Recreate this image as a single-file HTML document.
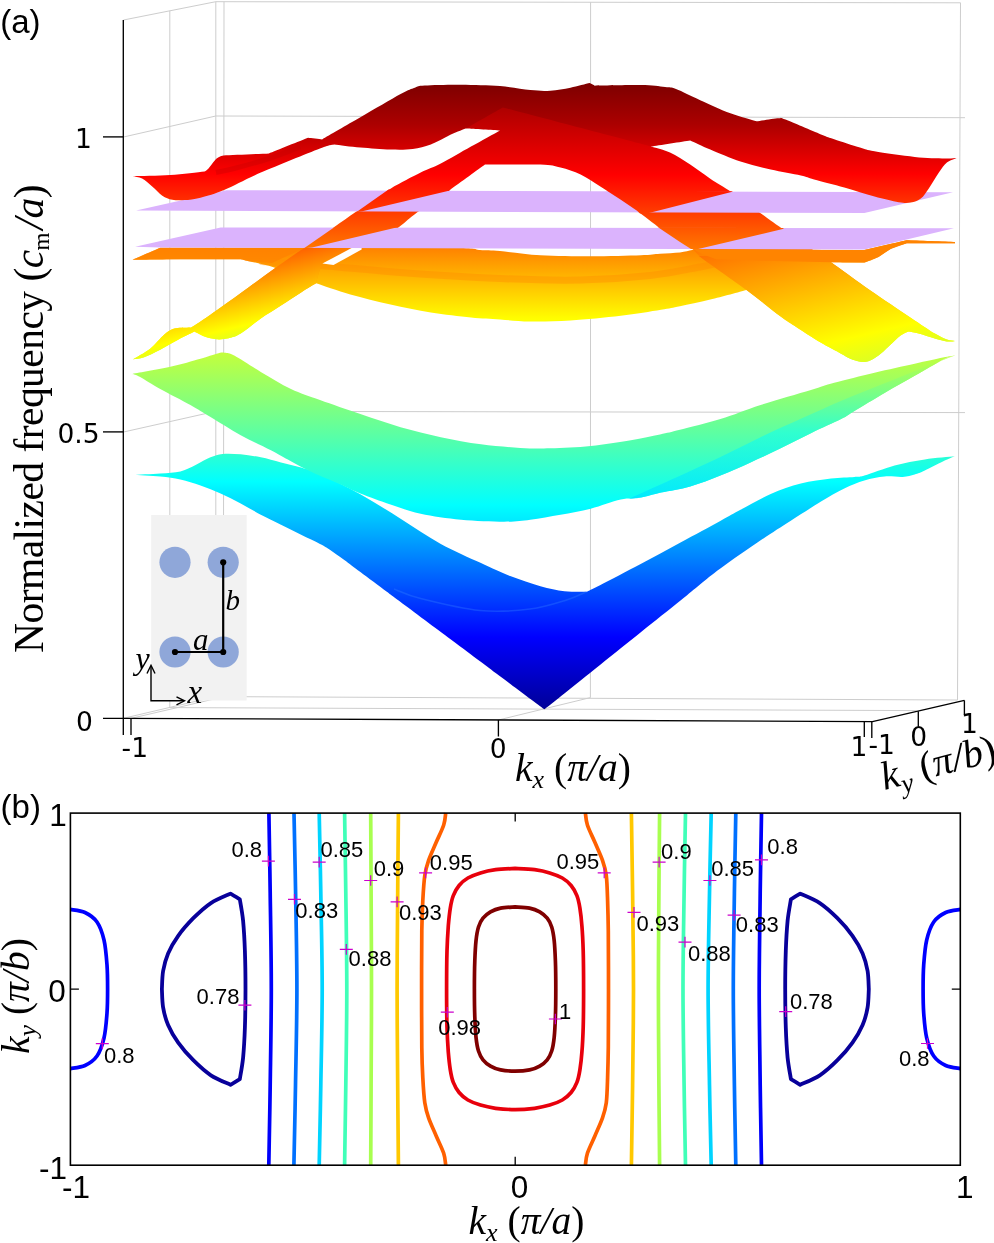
<!DOCTYPE html>
<html><head><meta charset="utf-8"><title>Band structure</title>
<style>
html,body{margin:0;padding:0;background:#fff;}
svg{display:block;}
.sans{font-family:"Liberation Sans",sans-serif;}
.tk{font-family:"DejaVu Sans","Liberation Sans",sans-serif;}
.ser{font-family:"Liberation Serif",serif;}
.it{font-style:italic;}
</style></head><body>
<svg width="994" height="1243" viewBox="0 0 994 1243">
<defs>
<linearGradient id="jet" gradientUnits="userSpaceOnUse" x1="0" y1="708" x2="0" y2="86">
<stop offset="0" stop-color="#00008f"/>
<stop offset="0.125" stop-color="#0000ff"/>
<stop offset="0.375" stop-color="#00ffff"/>
<stop offset="0.625" stop-color="#ffff00"/>
<stop offset="0.8585" stop-color="#ff0000"/>
<stop offset="1" stop-color="#800000"/>
</linearGradient>
<linearGradient id="jet2" gradientUnits="userSpaceOnUse" x1="0" y1="715" x2="0" y2="326">
<stop offset="0" stop-color="#00008f"/>
<stop offset="0.2" stop-color="#0000ff"/>
<stop offset="0.6" stop-color="#00ffff"/>
<stop offset="1" stop-color="#ffff00"/>
</linearGradient>
<linearGradient id="jet3" gradientUnits="userSpaceOnUse" x1="0" y1="703.6" x2="0" y2="306.5">
<stop offset="0" stop-color="#0000ff"/>
<stop offset="0.5" stop-color="#00ffff"/>
<stop offset="1" stop-color="#ffff00"/>
</linearGradient>
<linearGradient id="jet3b" gradientUnits="userSpaceOnUse" x1="0" y1="499" x2="0" y2="356">
<stop offset="0" stop-color="#00e6ff"/>
<stop offset="0.464" stop-color="#28ffd7"/>
<stop offset="1" stop-color="#bdff42"/>
</linearGradient>
<linearGradient id="jet5" gradientUnits="userSpaceOnUse" x1="0" y1="489" x2="0" y2="70">
<stop offset="0" stop-color="#00ffff"/>
<stop offset="0.3723" stop-color="#ffff00"/>
<stop offset="0.7494" stop-color="#ff0000"/>
<stop offset="1" stop-color="#800000"/>
</linearGradient>
<linearGradient id="jet5R" gradientUnits="userSpaceOnUse" x1="800" y1="561.1" x2="673.2" y2="23.8">
<stop offset="0" stop-color="#00ffff"/>
<stop offset="0.3723" stop-color="#ffff00"/>
<stop offset="0.7494" stop-color="#ff0000"/>
<stop offset="1" stop-color="#800000"/>
</linearGradient>
<linearGradient id="jet5L" gradientUnits="userSpaceOnUse" x1="250" y1="425" x2="189.3" y2="167.9">
<stop offset="0" stop-color="#00ffff"/>
<stop offset="0.3723" stop-color="#ffff00"/>
<stop offset="0.7494" stop-color="#ff0000"/>
<stop offset="1" stop-color="#800000"/>
</linearGradient>
<linearGradient id="jet6" gradientUnits="userSpaceOnUse" x1="0" y1="319" x2="0" y2="86">
<stop offset="0" stop-color="#ffff00"/>
<stop offset="0.6223" stop-color="#ff0000"/>
<stop offset="0.8326" stop-color="#ac0000"/>
<stop offset="1" stop-color="#800000"/>
</linearGradient>
</defs>
<rect x="0" y="0" width="994" height="1243" fill="#fff"/>
<g fill="none" stroke="#cdcdcd" stroke-width="1">
<path d="M123.5 20L215.8 1.7L960.5 2.8"/>
<path d="M169.8 10.8L169.8 707"/>
<path d="M215.8 1.7L215.8 696.6"/>
<path d="M224 1.7L223.4 696.6"/>
<path d="M590.6 2.2L590.4 697.6"/>
<path d="M960.5 2.8L957.5 700"/>
<path d="M123.5 137L215.8 116L965 117.7"/>
<path d="M123.5 432L215.8 411.3L965 412.6"/>
<path d="M123.5 718.3L215.8 696.6L957.5 700"/>
<path d="M131 718.4L224 696.7"/>
<path d="M498.3 720L590.4 697.6"/>
<path d="M169.8 707.6L916.5 710.6"/>
</g>
<path d="M132.5 474.8C137.1 474.6 152.2 474.0 160.2 473.4C168.2 472.8 174.3 472.9 180.4 471.4C186.5 469.9 191.5 466.8 196.5 464.4C201.5 462.0 206.2 459.1 210.5 457.3C214.8 455.6 217.6 454.4 222.6 453.9C227.6 453.4 234.3 453.7 240.7 454.3C247.1 454.9 254.1 456.0 260.8 457.3C267.5 458.6 274.3 460.7 281.0 462.4C287.7 464.1 294.6 465.5 301.1 467.4C307.6 469.3 310.1 469.5 320.0 474.0C329.9 478.5 347.0 486.8 360.4 494.2C373.8 501.6 387.2 510.4 400.6 518.7C414.0 527.0 427.4 536.5 440.8 543.9C454.2 551.3 469.4 557.6 481.0 563.0C492.6 568.4 500.3 572.2 510.2 576.1C520.1 580.0 531.4 583.7 540.4 586.2C549.4 588.7 556.8 590.3 564.5 591.2C572.2 592.1 582.9 591.7 586.6 591.8C588.8 590.7 591.1 589.8 600.0 585.2C608.9 580.6 626.8 571.4 640.2 564.3C653.6 557.2 667.1 549.8 680.5 542.5C693.9 535.2 710.7 526.2 720.7 520.7C730.7 515.2 732.2 514.2 740.5 509.8C748.8 505.4 760.7 498.4 770.7 494.0C780.8 489.6 790.8 486.1 800.8 483.5C810.8 480.9 822.1 479.6 831.0 478.5C839.9 477.4 848.8 477.4 854.4 476.9C860.0 476.4 857.7 477.4 864.4 475.5C871.1 473.6 884.5 468.1 894.6 465.4C904.7 462.7 914.7 460.9 924.8 459.4C934.9 457.9 950.0 456.8 955.0 456.3C953.0 457.1 947.9 459.0 942.9 461.4C937.9 463.8 929.5 468.2 924.8 470.4C920.1 472.6 918.4 473.3 914.7 474.4C911.0 475.5 907.7 476.5 902.7 476.9C897.7 477.2 890.9 475.9 884.5 476.5C878.1 477.1 871.1 478.5 864.4 480.5C857.7 482.5 851.5 485.0 844.3 488.5C837.1 492.0 829.9 496.2 821.0 501.6C812.1 507.0 800.8 514.3 790.8 520.7C780.8 527.1 772.7 532.2 761.0 540.1C749.3 548.0 730.9 560.9 720.7 568.3C710.5 575.7 706.7 579.1 700.0 584.5C693.3 589.9 690.5 592.5 680.5 600.5C670.5 608.5 653.6 622.0 640.2 632.7C626.8 643.4 616.0 652.1 600.0 664.9C584.0 677.7 553.7 701.9 544.4 709.3C537.0 703.8 510.7 684.2 500.0 676.2C489.3 668.2 488.2 667.3 480.0 661.2C471.8 655.1 464.1 649.4 450.9 639.5C437.7 629.6 411.3 610.0 400.6 602.0C389.9 594.0 393.2 596.5 386.5 591.5C379.8 586.5 367.4 577.2 360.4 572.0C353.4 566.8 349.3 563.7 344.3 560.0C339.3 556.3 334.2 552.6 330.2 549.9C326.1 547.2 324.9 546.4 320.0 543.9C315.1 541.4 307.6 538.0 301.1 534.8C294.6 531.6 287.7 528.1 281.0 524.7C274.3 521.4 267.5 518.2 260.8 514.7C254.1 511.2 247.4 507.1 240.7 503.6C234.0 500.1 227.3 496.6 220.6 493.6C213.9 490.6 207.2 487.9 200.5 485.5C193.8 483.1 187.1 481.0 180.4 479.5C173.7 478.0 168.2 477.3 160.2 476.5C152.2 475.7 137.1 475.1 132.5 474.8Z" fill="url(#jet2)" />
<path d="M394.0 589.0C398.4 590.6 406.4 594.9 420.7 598.5C435.0 602.1 461.8 608.8 480.0 610.5C498.2 612.2 515.6 610.8 530.0 609.0C544.4 607.2 557.1 602.9 566.5 600.0C575.9 597.1 583.2 593.2 586.6 591.8" fill="none" stroke="#3c8cff" stroke-width="1.6" opacity="0.3"/>
<path d="M132.5 373.9C138.8 372.7 159.0 369.3 170.3 366.8C181.6 364.3 192.8 361.0 200.5 358.8C208.2 356.6 212.6 354.7 216.6 353.7C220.6 352.7 221.6 352.3 224.6 352.7C227.6 353.1 228.7 352.6 234.7 355.8C240.7 359.0 251.4 366.4 260.8 371.9C270.2 377.4 281.1 384.3 291.0 389.0C300.9 393.7 308.4 395.8 320.0 400.0C331.6 404.2 347.0 409.6 360.4 414.1C373.8 418.6 387.2 423.4 400.6 427.2C414.0 431.0 427.4 434.3 440.8 437.2C454.2 440.1 467.8 442.5 481.0 444.3C494.2 446.1 508.6 447.2 520.2 447.9C531.8 448.6 538.6 448.6 550.4 448.3C562.1 448.0 577.3 447.2 590.7 445.9C604.1 444.5 619.4 442.1 630.9 440.2C642.4 438.3 651.8 436.1 660.0 434.4C668.2 432.7 669.9 432.4 680.0 429.8C690.1 427.2 707.0 423.2 720.4 419.1C733.8 415.0 745.5 409.9 760.6 405.0C775.7 400.1 798.6 393.7 810.9 390.0C823.2 386.3 823.6 385.7 834.2 382.8C844.8 379.9 861.1 375.9 874.5 372.7C887.9 369.5 903.3 366.2 914.7 363.7C926.1 361.2 936.2 359.0 942.9 357.6C949.6 356.2 953.0 355.9 955.0 355.6C953.0 356.3 949.6 356.3 942.9 359.7C936.2 363.1 924.4 370.3 914.7 375.8C905.0 381.3 894.5 387.0 884.5 392.9C874.5 398.8 861.6 406.6 854.4 411.0C847.2 415.4 848.4 415.4 841.1 419.1C833.9 422.8 821.0 428.3 810.9 433.2C800.8 438.1 790.8 443.4 780.7 448.3C770.6 453.2 760.5 457.9 750.5 462.4C740.5 466.9 730.4 471.5 720.4 475.5C710.4 479.5 700.1 483.6 690.2 486.5C680.3 489.4 669.2 490.8 661.0 492.6C652.8 494.5 647.7 496.4 641.0 497.6C634.3 498.8 629.2 497.8 620.8 499.6C612.4 501.5 600.8 506.2 590.7 508.7C580.7 511.2 570.6 512.9 560.5 514.7C550.4 516.5 539.7 518.5 530.3 519.7C520.9 520.9 515.6 521.7 504.1 521.7C492.6 521.7 474.9 521.0 461.0 519.7C447.1 518.4 432.4 516.2 420.7 513.7C408.9 511.2 400.6 508.0 390.5 504.6C380.4 501.2 368.8 497.0 360.4 493.6C352.0 490.2 346.7 487.3 340.0 484.3C333.3 481.3 325.8 478.4 320.0 475.8C314.2 473.2 310.0 471.3 305.0 468.8C300.0 466.3 295.7 463.9 290.0 460.8C284.3 457.7 279.1 454.6 270.9 450.3C262.7 446.0 250.8 440.7 240.7 435.2C230.6 429.7 218.9 422.1 210.5 417.1C202.1 412.1 198.8 409.7 190.4 405.0C182.0 400.3 168.6 393.7 160.2 389.0C151.8 384.3 144.7 379.4 140.1 376.9C135.5 374.4 133.8 374.4 132.5 373.9Z" fill="url(#jet3)" />
<path d="M955.0 355.6C953.0 356.3 949.6 356.3 942.9 359.7C936.2 363.1 924.4 370.3 914.7 375.8C905.0 381.3 894.5 387.0 884.5 392.9C874.5 398.8 861.6 406.6 854.4 411.0C847.2 415.4 848.4 415.4 841.1 419.1C833.9 422.8 821.0 428.3 810.9 433.2C800.8 438.1 790.8 443.4 780.7 448.3C770.6 453.2 760.5 457.9 750.5 462.4C740.5 466.9 730.4 471.5 720.4 475.5C710.4 479.5 700.1 483.6 690.2 486.5C680.3 489.4 669.2 490.8 661.0 492.6C652.8 494.5 646.4 496.5 641.0 497.6C635.6 498.7 630.5 498.8 628.4 499.0C636.2 495.5 659.6 485.1 675.0 478.0C690.4 470.9 706.5 463.6 721.0 456.7C735.5 449.8 748.6 442.9 762.0 436.5C775.4 430.1 788.1 424.5 801.4 418.5C814.7 412.5 828.6 406.2 842.0 400.5C855.4 394.8 869.0 389.6 882.0 384.3C895.0 379.1 907.8 373.8 920.0 369.0C932.2 364.2 949.2 357.8 955.0 355.6Z" fill="url(#jet3b)" opacity="0.85"/>
<path d="M132.5 259.8C137.1 257.8 155.6 249.7 160.2 247.7C193.5 247.7 310.0 247.6 360.0 247.7C410.0 247.8 440.0 247.7 460.0 248.1C480.0 248.5 473.3 249.6 480.0 250.1C486.7 250.6 489.9 250.2 500.0 251.1C510.1 251.9 525.3 254.3 540.4 255.2C555.5 256.1 573.9 256.2 590.7 256.2C607.5 256.2 629.5 255.6 641.0 255.2C652.5 254.8 653.5 254.1 660.0 253.7C666.5 253.2 674.6 253.1 680.0 252.5C685.4 251.9 688.9 250.6 692.2 250.1C695.5 249.6 698.7 249.6 700.0 249.5C727.4 249.6 837.0 249.8 864.4 249.9C871.5 248.3 899.7 241.8 906.7 240.2C914.8 240.5 947.0 241.6 955.0 241.9C955.0 242.1 955.0 243.1 955.0 243.3C947.0 243.3 914.8 243.3 906.7 243.3C904.0 244.2 895.3 246.6 890.6 248.9C885.9 251.2 882.9 254.6 878.5 256.9C874.1 259.2 866.8 261.7 864.4 262.6C858.8 262.5 836.6 262.3 831.0 262.2C816.9 266.8 760.6 285.4 746.5 290.0C740.5 291.6 721.4 296.9 710.3 299.6C699.2 302.3 688.2 304.5 680.0 306.2C671.8 307.9 670.9 308.2 661.0 309.8C651.1 311.4 635.9 314.0 620.8 315.8C605.7 317.6 585.6 319.6 570.5 320.5C555.4 321.4 542.0 321.7 530.3 321.5C518.5 321.3 509.9 320.2 500.0 319.5C490.1 318.8 482.5 318.7 471.0 317.5C459.5 316.3 444.2 314.7 430.8 312.5C417.4 310.3 403.9 307.4 390.5 304.4C377.1 301.4 362.7 297.9 350.3 294.4C337.9 290.9 321.7 285.1 316.0 283.3C309.1 280.7 286.1 271.5 274.9 267.8C263.7 264.1 254.5 262.6 248.8 261.2C243.1 259.8 242.0 259.5 240.7 259.2C230.6 259.2 198.4 259.1 180.4 259.2C162.4 259.3 140.5 259.7 132.5 259.8Z" fill="url(#jet)" />
<path d="M132.5 259.8L160.2 247.7L305 247.7L272 263L248.8 261.2L240.7 259.2L180.4 259.2Z" fill="#ff8200" opacity="0.75"/>
<path d="M262.0 261.5C271.7 262.2 297.0 263.7 320.0 265.5C343.0 267.3 370.0 270.3 400.0 272.5C430.0 274.7 470.0 277.2 500.0 278.5C530.0 279.8 555.0 280.5 580.0 280.0C605.0 279.5 630.0 277.7 650.0 275.5C670.0 273.3 687.0 269.4 700.0 267.0C713.0 264.6 723.3 262.0 728.0 261.0" fill="none" stroke="#ff8800" stroke-width="7" opacity="0.38" stroke-linecap="round"/>
<path d="M133.1 359.2C135.9 357.4 145.0 352.8 150.2 348.7C155.4 344.6 160.3 338.0 164.3 334.6C168.3 331.2 170.3 329.8 174.3 328.6C178.3 327.4 185.1 328.1 188.4 327.6C191.8 327.1 189.0 329.0 194.4 325.6C199.8 322.2 211.5 313.9 220.6 307.5C229.7 301.1 239.8 293.9 248.8 287.3C257.9 280.8 266.2 274.4 274.9 268.2C283.6 262.0 293.6 255.3 301.1 250.1C308.6 244.9 310.1 243.9 320.0 237.0C329.9 230.1 348.6 216.9 360.4 208.8C372.1 200.8 380.4 194.7 390.5 188.7C400.6 182.7 412.3 176.8 420.7 172.6C429.1 168.4 432.4 167.9 440.8 163.6C449.2 159.2 461.1 152.0 471.0 146.5C480.9 141.0 495.2 133.1 500.0 130.4C494.4 130.1 472.1 128.7 466.5 128.4C465.8 127.8 462.8 125.2 462.0 124.5C468.8 120.6 496.2 104.9 503.0 101.0C528.5 107.5 630.5 133.5 656.0 140.0C655.2 141.1 651.8 145.4 651.0 146.5C654.2 147.5 663.5 149.5 670.0 152.5C676.5 155.5 683.5 160.2 690.2 164.6C696.9 169.0 703.4 174.1 710.3 178.7C717.2 183.3 723.0 186.3 731.4 192.1C739.8 197.9 752.0 207.2 760.6 213.3C769.2 219.5 771.0 220.8 782.7 229.0C794.4 237.2 815.7 251.5 831.0 262.2C846.3 272.9 860.5 283.6 874.5 293.3C888.5 303.0 904.7 313.7 914.7 320.4C924.8 327.1 929.4 330.3 934.8 333.5C940.2 336.7 943.5 338.3 946.9 339.5C950.3 340.7 953.6 340.7 955.0 340.9C953.6 341.0 950.3 341.9 946.9 341.5C943.5 341.1 939.5 339.8 934.8 338.5C930.1 337.2 923.1 334.7 918.7 333.5C914.4 332.3 910.4 331.8 908.7 331.5C907.4 332.2 904.0 333.0 900.6 335.5C897.2 338.0 892.3 343.2 888.6 346.6C884.9 350.0 881.9 353.2 878.5 355.6C875.1 358.1 871.4 360.3 868.4 361.3C865.4 362.3 863.4 362.1 860.4 361.7C857.4 361.3 853.5 360.0 850.3 358.7C847.1 357.4 845.5 356.0 841.1 353.7C836.8 351.4 829.2 347.5 824.2 344.6C819.2 341.8 815.9 339.8 810.9 336.6C805.9 333.4 799.0 328.9 794.0 325.5C789.0 322.1 788.6 322.4 780.7 316.5C772.8 310.6 759.2 299.4 746.5 290.0C733.8 280.6 713.3 266.8 704.3 260.0C695.2 253.2 696.2 252.0 692.2 249.0C688.2 246.0 685.2 245.3 680.0 242.0C674.8 238.7 668.2 234.2 661.0 229.0C653.8 223.8 643.7 215.7 637.0 210.8C630.3 205.9 626.8 203.8 620.8 199.8C614.8 195.8 607.4 190.9 600.7 186.7C594.0 182.5 587.3 177.8 580.6 174.6C573.9 171.4 567.2 169.3 560.5 167.6C553.8 165.9 553.0 165.1 540.4 164.6C527.8 164.1 494.2 164.6 485.0 164.6C479.0 168.9 460.3 182.7 449.0 190.7C437.7 198.7 425.3 206.4 417.0 212.5C408.7 218.6 406.8 221.2 399.0 227.0C391.2 232.8 374.8 244.2 370.0 247.6C367.1 247.6 355.4 247.6 352.5 247.6C347.5 250.2 327.4 260.9 322.4 263.5C321.8 265.2 319.1 272.2 318.5 274.0C318.1 275.6 316.4 281.8 316.0 283.3C313.5 284.8 306.9 288.7 301.1 292.4C295.3 296.1 287.7 301.1 281.0 305.5C274.3 309.9 267.5 313.8 260.8 318.5C254.1 323.2 246.0 330.3 240.7 333.6C235.3 336.9 232.7 337.2 228.7 338.2C224.7 339.1 220.6 339.6 216.6 339.3C212.6 339.0 208.2 337.9 204.5 336.6C200.8 335.3 196.1 332.4 194.4 331.6C191.4 333.1 182.0 337.7 176.3 340.7C170.6 343.7 165.6 346.9 160.2 349.7C154.8 352.4 148.6 355.6 144.1 357.2C139.6 358.8 134.9 358.9 133.1 359.2Z" fill="url(#jet5)" />
<path d="M822.0 256.0C823.5 257.0 822.2 256.0 831.0 262.2C839.8 268.4 860.5 283.6 874.5 293.3C888.5 303.0 904.7 313.7 914.7 320.4C924.8 327.1 929.4 330.3 934.8 333.5C940.2 336.7 943.5 338.3 946.9 339.5C950.3 340.7 953.6 340.7 955.0 340.9C953.6 341.0 950.3 341.9 946.9 341.5C943.5 341.1 939.5 339.8 934.8 338.5C930.1 337.2 923.1 334.7 918.7 333.5C914.4 332.3 910.4 331.8 908.7 331.5C907.4 332.2 904.0 333.0 900.6 335.5C897.2 338.0 892.3 343.2 888.6 346.6C884.9 350.0 881.9 353.2 878.5 355.6C875.1 358.1 871.4 360.3 868.4 361.3C865.4 362.3 863.4 362.1 860.4 361.7C857.4 361.3 853.5 360.0 850.3 358.7C847.1 357.4 845.5 356.0 841.1 353.7C836.8 351.4 829.2 347.5 824.2 344.6C819.2 341.8 815.9 339.8 810.9 336.6C805.9 333.4 799.0 328.9 794.0 325.5C789.0 322.1 788.6 322.4 780.7 316.5C772.8 310.6 759.2 299.4 746.5 290.0C733.8 280.6 712.2 265.7 704.3 260.0C696.4 254.3 699.9 256.7 699.0 256.0C719.5 256.0 801.5 256.0 822.0 256.0Z" fill="url(#jet5R)" />
<path d="M305.0 247.6C304.4 248.0 306.1 246.7 301.1 250.1C296.1 253.5 283.6 262.0 274.9 268.2C266.2 274.4 257.9 280.8 248.8 287.3C239.8 293.9 229.7 301.1 220.6 307.5C211.5 313.9 199.8 322.2 194.4 325.6C189.0 329.0 191.8 327.1 188.4 327.6C185.1 328.1 178.3 327.4 174.3 328.6C170.3 329.8 168.3 331.2 164.3 334.6C160.3 338.0 155.4 344.6 150.2 348.7C145.0 352.8 135.9 357.4 133.1 359.2C134.9 358.9 139.6 358.8 144.1 357.2C148.6 355.6 154.8 352.4 160.2 349.7C165.6 346.9 170.6 343.7 176.3 340.7C182.0 337.7 191.4 333.1 194.4 331.6C196.1 332.4 200.8 335.3 204.5 336.6C208.2 337.9 212.6 339.0 216.6 339.3C220.6 339.6 224.7 339.1 228.7 338.2C232.7 337.2 235.3 336.9 240.7 333.6C246.0 330.3 254.1 323.2 260.8 318.5C267.5 313.8 274.3 309.9 281.0 305.5C287.7 301.1 295.3 296.1 301.1 292.4C306.9 288.7 313.5 284.8 316.0 283.3C316.4 281.8 318.1 275.6 318.5 274.0C319.1 272.2 321.8 265.2 322.4 263.5C327.4 260.9 347.5 250.2 352.5 247.6C344.6 247.6 312.9 247.6 305.0 247.6Z" fill="url(#jet5L)" />
<path d="M322.4 263.6L352.5 247.6L361.6 247.6L361.6 249.6L333.5 264.9Z" fill="#fff"/>
<path d="M136.1 210.6L226.6 190.2L953 192.3L864.4 213.1Z" fill="#dbb3fd"/>
<path d="M135.1 246.8L220.6 227.4L954 228.2L864.4 249.6L160 247.6Z" fill="#dbb3fd"/>
<path d="M356.5 212L388.5 189.5L450.5 189.5L448.9 190.7L362.4 211.2Z" fill="url(#jet5)"/>
<path d="M304 248.3L335 226.8L399.5 226.5L398.6 227L312 247.6Z" fill="url(#jet5)"/>
<path d="M606.5 190.5L733 191.2L731.4 192.1L647 213.6L640 213.6L637 210.8L620.8 199.8Z" fill="url(#jet5)"/>
<path d="M658 227.3L784 228L782.7 229L698.2 249L691 249L680 242Z" fill="url(#jet5)"/>
<path d="M694 249.6L864.4 249.9L906.7 240.2L955 241.9L955 243.3L906.7 243.3L890.6 248.9L878.5 256.9L864.4 262.6L831 262.2L760 260.8L716 259.2L702 254Z" fill="#ff8400"/>
<path d="M133.1 176.2C139.3 176.0 158.4 175.8 170.3 175.0C182.2 174.2 198.8 172.1 204.5 171.5C205.2 171.0 206.5 170.7 208.5 168.5C210.5 166.3 214.1 160.7 216.6 158.5C219.1 156.3 222.4 156.0 223.6 155.5C231.1 155.2 261.3 153.8 268.9 153.4C275.4 150.8 301.6 140.3 308.1 137.7C310.4 138.0 319.8 139.1 322.1 139.4C328.5 135.7 347.3 124.8 360.4 117.3C373.5 109.8 391.6 99.0 400.6 94.1C409.7 89.2 410.7 89.1 414.7 87.7C418.7 86.3 417.0 86.0 424.7 85.5C432.4 85.0 448.4 84.6 461.0 84.7C473.6 84.8 488.4 85.2 500.0 86.1C511.6 87.0 521.9 89.3 530.3 90.1C538.7 90.9 543.7 91.1 550.4 90.7C557.1 90.3 564.0 89.0 570.5 87.7C577.0 86.4 586.5 83.9 589.7 83.1C590.5 83.5 593.9 85.3 594.7 85.7C602.4 85.6 629.3 84.9 641.0 85.1C652.7 85.3 659.3 86.4 665.1 87.1C670.9 87.8 670.1 86.9 676.0 89.1C681.9 91.3 691.1 96.2 700.2 100.2C709.3 104.2 721.0 109.8 730.4 113.3C739.8 116.8 752.2 120.0 756.6 121.3C760.3 120.8 774.0 118.6 778.7 118.3C783.4 118.0 777.7 116.6 784.7 119.3C791.8 122.0 812.8 131.1 821.0 134.4C829.2 137.7 827.7 137.0 834.2 139.2C840.7 141.4 853.3 145.5 860.0 147.5C866.7 149.5 865.4 149.7 874.5 151.3C883.6 152.9 903.0 155.7 914.7 156.9C926.4 158.1 937.9 158.2 944.9 158.4C951.9 158.6 954.6 158.0 956.6 157.9C955.0 158.7 949.9 160.0 946.9 162.4C943.9 164.8 941.9 168.1 938.9 172.4C935.9 176.8 931.8 184.1 928.8 188.5C925.8 192.9 923.8 196.2 920.8 198.6C917.8 200.9 914.4 202.0 910.7 202.6C907.0 203.2 904.6 203.2 898.6 202.2C892.6 201.2 883.5 199.0 874.5 196.6C865.5 194.2 854.4 190.3 844.3 187.5C834.2 184.7 821.4 181.5 814.1 179.5C806.9 177.5 808.0 177.2 800.8 175.6C793.6 173.9 780.8 171.9 770.7 169.6C760.7 167.2 750.6 164.8 740.5 161.5C730.4 158.2 718.7 153.0 710.3 149.5C701.9 146.0 693.6 141.9 690.2 140.4C683.7 141.4 657.5 145.5 651.0 146.5C626.3 140.0 527.5 114.0 502.8 107.5C496.8 110.9 473.0 124.5 467.0 127.9C464.3 129.0 456.9 131.7 450.9 134.4C444.9 137.2 437.2 142.0 430.8 144.4C424.4 146.8 419.4 148.1 412.7 148.9C406.0 149.8 399.2 149.7 390.5 149.5C381.8 149.3 369.8 148.3 360.4 147.5C351.0 146.7 338.6 144.9 334.2 144.4C331.8 145.1 332.2 143.7 320.0 148.4C307.8 153.1 276.7 165.7 260.8 172.6C244.9 179.5 234.7 185.5 224.6 189.7C214.5 193.9 207.2 196.0 200.5 197.7C193.8 199.4 189.1 199.8 184.4 200.1C179.7 200.4 176.0 200.4 172.3 199.7C168.6 199.0 165.7 197.9 162.3 195.7C159.0 193.5 155.6 189.4 152.2 186.6C148.8 183.8 145.3 180.3 142.1 178.6C138.9 176.9 134.6 176.6 133.1 176.2Z" fill="url(#jet6)" />
<path d="M216.0 172.5C219.3 171.8 227.2 170.3 236.0 168.0C244.8 165.7 258.3 162.0 269.0 158.5C279.7 155.0 294.8 148.9 300.0 147.0" fill="none" stroke="#c00000" stroke-width="5" opacity="0.32" stroke-linecap="butt"/>
<rect x="151.2" y="515" width="95.5" height="185.5" fill="#f2f2f2"/>
<circle cx="175" cy="562.3" r="15.6" fill="#8fa7d9"/>
<circle cx="223.2" cy="562.3" r="15.6" fill="#8fa7d9"/>
<circle cx="175" cy="652" r="15.6" fill="#8fa7d9"/>
<circle cx="223.2" cy="652" r="15.6" fill="#8fa7d9"/>
<path d="M223.2 562.3L223.2 652L175 652" fill="none" stroke="#000" stroke-width="2.2"/>
<circle cx="223.2" cy="562.3" r="3.1" fill="#000"/>
<circle cx="223.2" cy="652" r="3.1" fill="#000"/>
<circle cx="175" cy="652" r="3.1" fill="#000"/>
<text class="ser it" x="225.5" y="610.2" font-size="29">b</text>
<text class="ser it" x="193" y="649.6" font-size="31">a</text>
<path d="M151 666L151 700.8L183.5 700.8" fill="none" stroke="#000" stroke-width="1.4"/>
<path d="M147 673.5L151 665.3L155 673.5" fill="none" stroke="#000" stroke-width="1.4"/>
<path d="M176.5 696.8L184.5 700.8L176.5 704.8" fill="none" stroke="#000" stroke-width="1.4"/>
<text class="ser it" x="135.5" y="669" font-size="32">y</text>
<text class="ser it" x="187.5" y="702.5" font-size="33">x</text>
<g fill="none" stroke="#000" stroke-width="1.35">
<path d="M123.3 20L123.3 735"/>
<path d="M103 136.9L123.3 136.9"/>
<path d="M103 431.9L123.3 431.9"/>
<path d="M103 718.3L123.3 718.3L872.5 721.6L964.4 700.4"/>
<path d="M131 718.4L131 735"/>
<path d="M498.4 720L498.4 736.5"/>
<path d="M864.3 721.6L864.3 737"/>
<path d="M871.8 721.6L871.8 738"/>
<path d="M918.3 711.2L918.3 726.5"/>
<path d="M964.4 700.4L964.4 715"/>
</g>
<g class="tk" font-size="26.5" fill="#000">
<text x="75" y="147.5">1</text>
<text x="57.4" y="443">0.5</text>
<text x="75.9" y="731">0</text>
<text x="121.6" y="756.8">-1</text>
<text x="489.8" y="758.4">0</text>
<text x="850.5" y="756.3">1</text>
<text x="868.5" y="754.3">-1</text>
<text x="910.3" y="746">0</text>
<text x="961.1" y="732.9">1</text>
</g>
<text class="sans" x="0.2" y="32.8" font-size="33">(a)</text>
<text class="ser it" x="515" y="781.3" font-size="39.5">k<tspan font-size="26" dy="7">x</tspan><tspan dy="-7"> </tspan><tspan font-style="normal">(</tspan>π/a<tspan font-style="normal">)</tspan></text>
<text class="ser it" transform="translate(884.5,790) rotate(-14.6)" font-size="40">k<tspan font-size="27" dy="8">y</tspan><tspan dy="-8"> </tspan><tspan font-style="normal">(</tspan>π/b<tspan font-style="normal">)</tspan></text>
<text class="ser" transform="translate(43.4,653) rotate(-90)" font-size="41.5" textLength="468.5" lengthAdjust="spacing">Normalized frequency (<tspan class="it">c</tspan><tspan font-size="23" dy="6">m</tspan><tspan class="it" dy="-6" dx="3.5">/a</tspan>)</text>
<text class="sans" x="0.6" y="818" font-size="33">(b)</text>
<path d="M70.4 909.4C72.8 909.9 80.6 910.4 85.0 912.5C89.4 914.6 93.8 917.4 97.0 922.0C100.2 926.6 102.3 932.8 104.0 940.0C105.7 947.2 106.4 956.8 107.0 965.0C107.6 973.2 107.6 981.0 107.6 989.0C107.6 997.0 107.6 1004.8 107.0 1013.0C106.4 1021.2 105.7 1030.8 104.0 1038.0C102.3 1045.2 100.2 1051.4 97.0 1056.0C93.8 1060.6 89.4 1063.4 85.0 1065.5C80.6 1067.6 72.8 1068.1 70.4 1068.6" fill="none" stroke="#0000ff" stroke-width="3.7" stroke-linejoin="round"/>
<path d="M960.3 909.4C957.9 909.9 950.1 910.4 945.7 912.5C941.3 914.6 936.9 917.4 933.7 922.0C930.5 926.6 928.4 932.8 926.7 940.0C925.0 947.2 924.3 956.8 923.7 965.0C923.1 973.2 923.1 981.0 923.1 989.0C923.1 997.0 923.1 1004.8 923.7 1013.0C924.3 1021.2 925.0 1030.8 926.7 1038.0C928.4 1045.2 930.5 1051.4 933.7 1056.0C936.9 1060.6 941.3 1063.4 945.7 1065.5C950.1 1067.6 957.9 1068.1 960.3 1068.6" fill="none" stroke="#0000ff" stroke-width="3.7" stroke-linejoin="round"/>
<path d="M161.9 989.0C162.1 986.0 162.1 976.9 163.1 971.0C164.1 965.1 165.6 959.3 168.1 953.4C170.6 947.5 174.0 941.7 178.2 935.8C182.4 929.9 187.9 923.7 193.3 918.2C198.8 912.8 204.7 907.2 210.9 903.1C217.1 899.0 227.2 895.2 230.5 893.6C232.1 894.5 238.2 898.3 239.8 899.3C240.4 902.9 242.2 912.1 243.1 920.7C243.9 929.3 244.5 939.5 244.9 950.9C245.3 962.3 245.5 976.2 245.5 989.0C245.5 1001.8 245.3 1016.0 244.9 1027.5C244.5 1039.0 243.9 1049.1 243.1 1057.7C242.2 1066.3 240.4 1075.5 239.8 1079.1C238.2 1080.1 232.1 1083.9 230.5 1084.8C227.2 1083.2 217.1 1079.4 210.9 1075.3C204.7 1071.2 198.8 1065.7 193.3 1060.2C187.9 1054.8 182.4 1048.5 178.2 1042.6C174.0 1036.7 170.6 1030.9 168.1 1025.0C165.6 1019.1 164.1 1013.3 163.1 1007.4C162.1 1001.5 162.1 992.4 161.9 989.4Z" fill="none" stroke="#08009a" stroke-width="3.8" stroke-linejoin="round"/>
<path d="M868.8 989.0C868.6 986.0 868.6 976.9 867.6 971.0C866.6 965.1 865.1 959.3 862.6 953.4C860.1 947.5 856.7 941.7 852.5 935.8C848.3 929.9 842.9 923.7 837.4 918.2C832.0 912.8 826.0 907.2 819.8 903.1C813.6 899.0 803.5 895.2 800.2 893.6C798.7 894.5 792.5 898.3 790.9 899.3C790.4 902.9 788.5 912.1 787.6 920.7C786.8 929.3 786.2 939.5 785.8 950.9C785.4 962.3 785.2 976.2 785.2 989.0C785.2 1001.8 785.4 1016.0 785.8 1027.5C786.2 1039.0 786.8 1049.1 787.6 1057.7C788.5 1066.3 790.4 1075.5 790.9 1079.1C792.5 1080.1 798.7 1083.9 800.2 1084.8C803.5 1083.2 813.6 1079.4 819.8 1075.3C826.0 1071.2 832.0 1065.7 837.4 1060.2C842.9 1054.8 848.3 1048.5 852.5 1042.6C856.7 1036.7 860.1 1030.9 862.6 1025.0C865.1 1019.1 866.6 1013.3 867.6 1007.4C868.6 1001.5 868.6 992.4 868.8 989.4Z" fill="none" stroke="#08009a" stroke-width="3.8" stroke-linejoin="round"/>
<path d="M268.9 813.1C269.1 826.4 269.8 863.8 270.2 893.1C270.6 922.4 271.3 957.0 271.3 989.0C271.3 1021.0 270.6 1055.8 270.2 1085.2C269.8 1114.6 269.0 1151.9 268.8 1165.2" fill="none" stroke="#0000fa" stroke-width="3.7" stroke-linejoin="round"/>
<path d="M294.0 813.1C294.3 826.4 295.1 863.8 295.6 893.1C296.1 922.4 296.9 957.0 296.9 989.0C296.9 1021.0 296.0 1055.8 295.5 1085.2C295.0 1114.6 294.2 1151.9 293.9 1165.2" fill="none" stroke="#0070ff" stroke-width="3.7" stroke-linejoin="round"/>
<path d="M319.2 813.1C319.5 826.4 320.3 863.8 320.8 893.1C321.3 922.4 322.2 957.0 322.2 989.0C322.2 1021.0 321.3 1055.8 320.8 1085.2C320.3 1114.6 319.5 1151.9 319.2 1165.2" fill="none" stroke="#00d4ff" stroke-width="3.7" stroke-linejoin="round"/>
<path d="M344.6 813.1C344.8 826.4 345.4 863.8 345.8 893.1C346.2 922.4 346.8 957.0 346.8 989.0C346.8 1021.0 346.2 1055.8 345.8 1085.2C345.4 1114.6 344.8 1151.9 344.6 1165.2" fill="none" stroke="#40ffb8" stroke-width="3.7" stroke-linejoin="round"/>
<path d="M370.7 813.1C370.8 826.4 371.0 863.8 371.1 893.1C371.3 922.4 371.5 957.0 371.5 989.0C371.5 1021.0 371.3 1055.8 371.1 1085.2C371.0 1114.6 370.8 1151.9 370.7 1165.2" fill="none" stroke="#a8ff50" stroke-width="3.7" stroke-linejoin="round"/>
<path d="M398.4 813.1C398.3 826.4 397.9 863.8 397.7 893.1C397.5 922.4 397.1 957.0 397.1 989.0C397.1 1021.0 397.5 1055.8 397.7 1085.2C397.9 1114.6 398.3 1151.9 398.4 1165.2" fill="none" stroke="#ffc800" stroke-width="3.7" stroke-linejoin="round"/>
<path d="M631.4 813.1C631.6 826.4 632.2 863.8 632.6 893.1C632.9 922.4 633.5 957.0 633.5 989.0C633.5 1021.0 632.9 1055.8 632.6 1085.2C632.2 1114.6 631.6 1151.9 631.4 1165.2" fill="none" stroke="#ffc800" stroke-width="3.7" stroke-linejoin="round"/>
<path d="M659.6 813.1C659.5 826.4 659.1 863.8 658.9 893.1C658.7 922.4 658.4 957.0 658.4 989.0C658.4 1021.0 658.7 1055.8 658.9 1085.2C659.1 1114.6 659.5 1151.9 659.6 1165.2" fill="none" stroke="#a8ff50" stroke-width="3.7" stroke-linejoin="round"/>
<path d="M685.5 813.1C685.3 826.4 684.5 863.8 684.1 893.1C683.7 922.4 683.0 957.0 683.0 989.0C683.0 1021.0 683.7 1055.8 684.1 1085.2C684.5 1114.6 685.3 1151.9 685.5 1165.2" fill="none" stroke="#40ffb8" stroke-width="3.7" stroke-linejoin="round"/>
<path d="M711.2 813.1C710.9 826.4 710.0 863.8 709.5 893.1C709.0 922.4 708.1 957.0 708.1 989.0C708.1 1021.0 709.0 1055.8 709.5 1085.2C710.0 1114.6 710.9 1151.9 711.2 1165.2" fill="none" stroke="#00d4ff" stroke-width="3.7" stroke-linejoin="round"/>
<path d="M735.8 813.1C735.6 826.4 734.8 863.8 734.4 893.1C734.0 922.4 733.3 957.0 733.3 989.0C733.3 1021.0 734.0 1055.8 734.4 1085.2C734.8 1114.6 735.6 1151.9 735.8 1165.2" fill="none" stroke="#0070ff" stroke-width="3.7" stroke-linejoin="round"/>
<path d="M761.5 813.1C761.3 826.4 760.6 863.8 760.2 893.1C759.9 922.4 759.2 957.0 759.2 989.0C759.2 1021.0 759.9 1055.8 760.2 1085.2C760.6 1114.6 761.3 1151.9 761.5 1165.2" fill="none" stroke="#0000fa" stroke-width="3.7" stroke-linejoin="round"/>
<path d="M445.7 813.1C445.4 815.1 445.3 820.0 443.7 825.0C442.1 830.0 438.5 836.9 436.0 842.8C433.5 848.7 430.5 854.9 428.6 860.4C426.7 865.9 425.8 868.8 424.8 875.5C423.8 882.2 423.3 891.4 422.8 900.6C422.3 909.8 422.0 916.1 421.8 930.8C421.6 945.5 421.6 969.5 421.6 989.0C421.6 1008.5 421.6 1032.7 421.8 1047.5C422.0 1062.3 422.3 1068.5 422.8 1077.7C423.3 1086.9 423.8 1096.1 424.8 1102.8C425.8 1109.5 426.7 1112.5 428.6 1117.9C430.5 1123.4 433.5 1129.6 436.0 1135.5C438.5 1141.4 442.1 1148.3 443.7 1153.3C445.3 1158.2 445.4 1163.2 445.7 1165.2" fill="none" stroke="#ff6000" stroke-width="3.7" stroke-linejoin="round"/>
<path d="M585.4 813.1C585.7 815.1 585.8 820.0 587.4 825.0C589.0 830.0 592.6 836.9 595.1 842.8C597.6 848.7 600.6 854.9 602.5 860.4C604.4 865.9 605.4 868.8 606.3 875.5C607.1 882.2 607.3 891.4 607.6 900.6C607.9 909.8 608.1 916.1 608.3 930.8C608.4 945.5 608.5 969.5 608.5 989.0C608.5 1008.5 608.4 1032.7 608.3 1047.5C608.1 1062.3 607.9 1068.5 607.6 1077.7C607.3 1086.9 607.1 1096.1 606.3 1102.8C605.4 1109.5 604.4 1112.5 602.5 1117.9C600.6 1123.4 597.6 1129.6 595.1 1135.5C592.6 1141.4 589.0 1148.3 587.4 1153.3C585.8 1158.2 585.7 1163.2 585.4 1165.2" fill="none" stroke="#ff6000" stroke-width="3.7" stroke-linejoin="round"/>
<path d="M515.1 868.4C511.9 868.6 501.4 869.0 495.6 869.7C489.8 870.5 485.1 871.5 480.5 872.9C475.9 874.3 471.5 875.9 467.9 878.0C464.3 880.1 461.5 882.6 459.1 885.5C456.7 888.4 454.8 891.8 453.3 895.6C451.8 899.4 451.1 903.1 450.3 908.1C449.5 913.1 448.9 918.7 448.3 925.8C447.8 932.9 447.3 940.4 447.0 950.9C446.7 961.4 446.6 976.3 446.6 989.0C446.6 1001.7 446.7 1016.6 447.0 1027.1C447.3 1037.6 447.8 1045.1 448.3 1052.2C448.9 1059.3 449.5 1064.9 450.3 1069.9C451.1 1074.9 451.8 1078.6 453.3 1082.4C454.8 1086.2 456.7 1089.6 459.1 1092.5C461.5 1095.4 464.3 1097.9 467.9 1100.0C471.5 1102.1 475.9 1103.7 480.5 1105.1C485.1 1106.5 489.8 1107.5 495.6 1108.3C501.4 1109.0 508.6 1109.6 515.1 1109.6C521.6 1109.6 528.8 1109.0 534.6 1108.3C540.4 1107.5 545.1 1106.5 549.7 1105.1C554.3 1103.7 558.7 1102.1 562.3 1100.0C565.9 1097.9 568.7 1095.4 571.1 1092.5C573.5 1089.6 575.4 1086.2 576.9 1082.4C578.4 1078.6 579.1 1074.9 579.9 1069.9C580.7 1064.9 581.4 1059.3 581.9 1052.2C582.5 1045.1 582.9 1037.6 583.2 1027.1C583.5 1016.6 583.6 1001.7 583.6 989.0C583.6 976.3 583.5 961.4 583.2 950.9C582.9 940.4 582.5 932.9 581.9 925.8C581.4 918.7 580.7 913.1 579.9 908.1C579.1 903.1 578.4 899.4 576.9 895.6C575.4 891.8 573.5 888.4 571.1 885.5C568.7 882.6 565.9 880.1 562.3 878.0C558.7 875.9 554.3 874.3 549.7 872.9C545.1 871.5 540.4 870.5 534.6 869.7C528.8 869.0 518.4 868.6 515.1 868.4Z" fill="none" stroke="#e8000c" stroke-width="3.7" stroke-linejoin="round"/>
<path d="M515.1 906.9C512.7 907.1 504.7 907.3 500.6 908.1C496.5 908.9 493.4 910.2 490.5 911.9C487.6 913.6 485.0 915.7 483.0 918.2C481.0 920.7 479.7 923.2 478.5 927.0C477.3 930.8 476.6 935.1 476.0 940.8C475.4 946.5 475.1 953.0 474.8 961.0C474.5 969.0 474.4 979.7 474.4 989.0C474.4 998.3 474.5 1009.0 474.8 1017.0C475.1 1025.0 475.4 1031.5 476.0 1037.2C476.6 1042.9 477.3 1047.2 478.5 1051.0C479.7 1054.8 481.0 1057.3 483.0 1059.8C485.0 1062.3 487.6 1064.4 490.5 1066.1C493.4 1067.8 496.5 1069.1 500.6 1069.9C504.7 1070.7 510.3 1071.1 515.1 1071.1C519.9 1071.1 525.5 1070.7 529.6 1069.9C533.7 1069.1 536.8 1067.8 539.7 1066.1C542.6 1064.4 545.2 1062.3 547.2 1059.8C549.2 1057.3 550.5 1054.8 551.7 1051.0C552.9 1047.2 553.6 1042.9 554.2 1037.2C554.8 1031.5 555.1 1025.0 555.4 1017.0C555.7 1009.0 555.8 998.3 555.8 989.0C555.8 979.7 555.7 969.0 555.4 961.0C555.1 953.0 554.8 946.5 554.2 940.8C553.6 935.1 552.9 930.8 551.7 927.0C550.5 923.2 549.2 920.7 547.2 918.2C545.2 915.7 542.6 913.6 539.7 911.9C536.8 910.2 533.7 908.9 529.6 908.1C525.5 907.3 517.5 907.1 515.1 906.9Z" fill="none" stroke="#800000" stroke-width="3.7" stroke-linejoin="round"/>
<rect x="70.4" y="813.1" width="889.9" height="352.1" fill="none" stroke="#000" stroke-width="1.6"/>
<g fill="none" stroke="#000" stroke-width="1.3">
<path d="M515.2 813.1 v8.5 M515.2 1165.2 v-8.5 M70.4 989.2 h8.5 M960.3 989.2 h-8.5"/>
</g>
<path d="M261.9 861.1h13M268.4 855.8v10.6M288.0 899.3h13M294.5 894.0v10.6M312.7 862.1h13M319.2 856.8v10.6M339.8 949.4h13M346.3 944.1v10.6M364.2 880.5h13M370.7 875.2v10.6M390.6 901.9h13M397.1 896.6v10.6M419.1 872.9h13M425.6 867.6v10.6M597.7 872.9h13M604.2 867.6v10.6M627.5 912.4h13M634.0 907.1v10.6M652.6 862.1h13M659.1 856.8v10.6M678.5 942.1h13M685.0 936.8v10.6M703.4 880.5h13M709.9 875.2v10.6M727.6 915.2h13M734.1 909.9v10.6M755.0 859.9h13M761.5 854.6v10.6M95.8 1043.6h13M102.3 1038.3v10.6M238.4 1005.2h13M244.9 999.9v10.6M440.8 1012.2h13M447.3 1006.9v10.6M548.9 1019.0h13M555.4 1013.7v10.6M779.2 1011.6h13M785.7 1006.3v10.6M921.0 1043.5h13M927.5 1038.2v10.6" fill="none" stroke="#cc00cc" stroke-width="1.2"/>
<g class="sans" font-size="22" fill="#000">
<text x="231.5" y="857.3">0.8</text>
<text x="295.3" y="918.2">0.83</text>
<text x="320.4" y="857.3">0.85</text>
<text x="348.6" y="966">0.88</text>
<text x="373.7" y="875.5">0.9</text>
<text x="398.9" y="920.2">0.93</text>
<text x="429.8" y="869.7">0.95</text>
<text x="556.4" y="869.2">0.95</text>
<text x="636.5" y="930.8">0.93</text>
<text x="661.1" y="858.6">0.9</text>
<text x="688" y="960.5">0.88</text>
<text x="711.2" y="876">0.85</text>
<text x="735.8" y="932">0.83</text>
<text x="767.3" y="854.1">0.8</text>
<text x="789.9" y="1008.8">0.78</text>
<text x="196.6" y="1003.9">0.78</text>
<text x="104" y="1062.5">0.8</text>
<text x="438.2" y="1034.6">0.98</text>
<text x="559" y="1019.3">1</text>
<text x="899" y="1066">0.8</text>
</g>
<g class="sans" font-size="31.5" fill="#000">
<text x="49.3" y="825.8">1</text>
<text x="48.3" y="1001.6">0</text>
<text x="38.9" y="1178.5">-1</text>
<text x="61.9" y="1197.8">-1</text>
<text x="510.8" y="1198">0</text>
<text x="956" y="1198">1</text>
</g>
<text class="ser it" x="468.5" y="1233.8" font-size="39.5">k<tspan font-size="26" dy="7">x</tspan><tspan dy="-7"> </tspan><tspan font-style="normal">(</tspan>π/a<tspan font-style="normal">)</tspan></text>
<text class="ser it" transform="translate(29,1054) rotate(-90)" font-size="39.5">k<tspan font-size="26" dy="7">y</tspan><tspan dy="-7"> </tspan><tspan font-style="normal">(</tspan>π/b<tspan font-style="normal">)</tspan></text>
</svg>
</body></html>
